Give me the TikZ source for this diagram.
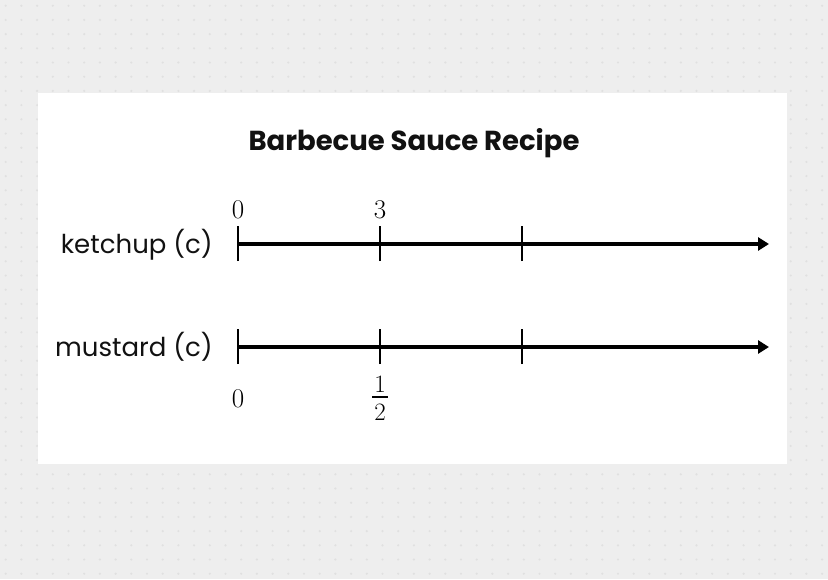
\documentclass[tikz,border=0pt]{standalone}
\usepackage{fontspec}
\setmainfont{Poppins}
\newfontfamily\lmr{Latin Modern Roman}
\usetikzlibrary{arrows.meta}
\definecolor{bgray}{HTML}{EEEEEE}
\definecolor{dotgray}{HTML}{E0E0E0}
\definecolor{ink}{HTML}{111111}
\tikzset{
  axis/.style={line width=3.5pt, -{Triangle[length=11pt,width=13pt]}},
  tick/.style={line width=2.5pt},
  lbl/.style={font=\fontsize{26}{30}\selectfont, text=ink, anchor=base east, inner sep=0pt},
  num/.style={font=\lmr\fontsize{27}{31}\selectfont, inner sep=0pt, anchor=base},
  fracnum/.style={font=\lmr\fontsize{25}{29}\selectfont, inner sep=0pt, anchor=base},
  fracbar/.style={line width=1.5pt},
}
\begin{document}
\begin{tikzpicture}[x=1pt,y=-1pt]
\useasboundingbox (0,0) rectangle (828,579);
\fill[bgray] (0,0) rectangle (828,579);
\foreach \i in {0,...,52} {
  \foreach \j in {0,...,40} {
    \fill[dotgray] (5.7+15.7*\i, 5.7+14.2*\j) circle (1.2);
  }
}
\fill[white] (38,93) rectangle (787,464);
\node[font=\bfseries\fontsize{27.5}{32}\selectfont, text=ink, inner sep=0pt, anchor=base] (title) at (414,150) {Barbecue Sauce Recipe};
% ketchup
\coordinate (k0) at (238,244);
\coordinate (k1) at (380,244);
\coordinate (k2) at (522,244);
\coordinate (kend) at (769,244);
\draw[axis] (k0) -- (kend);
\draw[tick] ([yshift=-17pt]k0) -- ([yshift=18pt]k0);
\draw[tick] ([yshift=-17pt]k1) -- ([yshift=18pt]k1);
\draw[tick] ([yshift=-17pt]k2) -- ([yshift=18pt]k2);
\node[lbl] (klabel) at (213,253) {ketchup (c)};
\node[num] (kn0) at (238,218) {0};
\node[num] (kn3) at (380,218) {3};
% mustard
\coordinate (m0) at (238,347);
\coordinate (m1) at (380,347);
\coordinate (m2) at (522,347);
\coordinate (mend) at (769,347);
\draw[axis] (m0) -- (mend);
\draw[tick] ([yshift=-17pt]m0) -- ([yshift=18pt]m0);
\draw[tick] ([yshift=-17pt]m1) -- ([yshift=18pt]m1);
\draw[tick] ([yshift=-17pt]m2) -- ([yshift=18pt]m2);
\node[lbl] (mlabel) at (213,356) {mustard (c)};
\node[num] (mn0) at (238,407) {0};
\node[fracnum] (mnum) at (380,392) {1};
\node[fracnum] (mden) at (380,420) {2};
\coordinate (barL) at (372,397);
\coordinate (barR) at (388,397);
\draw[fracbar] (barL) -- (barR);
\end{tikzpicture}
\end{document}
